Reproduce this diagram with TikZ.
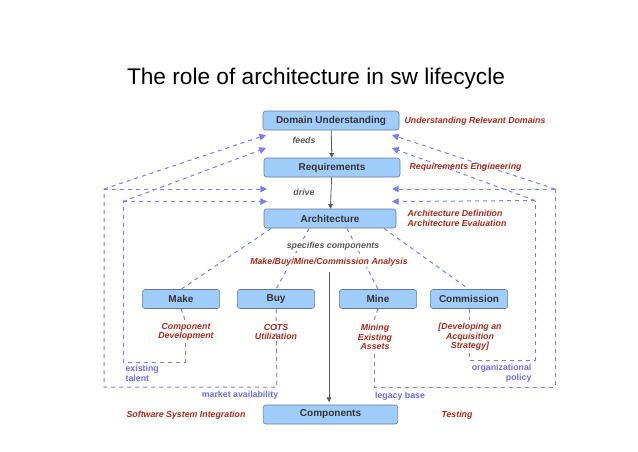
\documentclass[tikz,border=0pt]{standalone}
\usepackage{fontspec}
\setmainfont{Liberation Sans}
\usetikzlibrary{arrows.meta}
\definecolor{boxfill}{RGB}{160,204,250}
\definecolor{boxdraw}{RGB}{100,120,150}
\definecolor{redtxt}{RGB}{165,45,30}
\definecolor{dashc}{RGB}{125,125,240}
\definecolor{bluetxt}{RGB}{110,110,225}
\tikzset{
 box/.style={draw=boxdraw,fill=boxfill,rounded corners=2pt,minimum height=14.25pt,font=\fontsize{7.5}{8}\selectfont\bfseries,text=black!80},
 redl/.style={text=redtxt,font=\fontsize{6.6}{7.2}\selectfont\bfseries\itshape,align=center,inner sep=1pt},
 grayl/.style={text=black!65,font=\fontsize{6.6}{7.2}\selectfont\bfseries\itshape,fill=white,inner sep=1pt},
 bluel/.style={text=bluetxt,font=\fontsize{6.6}{7.2}\selectfont\bfseries,inner sep=1pt},
 dl/.style={draw=dashc,dashed,line width=0.75pt},
 da/.style={dl,-{Triangle[length=5pt,width=5pt]}},
 sa/.style={draw=black!65,line width=0.6pt,-{Triangle[length=3.5pt,width=3.5pt]}}
}
\begin{document}
\begin{tikzpicture}[x=0.75pt,y=-0.75pt]
\useasboundingbox[fill=white] (0,0) rectangle (638,451);
\node[font=\fontsize{17}{20}\selectfont] (title) at (316,79) {The role of architecture in sw lifecycle};
% boxes
\node[box,minimum width=102pt] (du) at (331,120.5) {Domain Understanding};
\node[box,minimum width=102pt] (req) at (332,167.5) {Requirements};
\node[box,minimum width=99pt] (arch) at (330,218.5) {Architecture};
\node[box,minimum width=58pt] (make) at (181,299) {Make};
\node[box,minimum width=58pt] (buy) at (276,299) {Buy};
\node[box,minimum width=58pt] (mine) at (378,299) {Mine};
\node[box,minimum width=58pt] (comm) at (469,299) {Commission};
\node[box,minimum width=101pt] (comp) at (330.5,414.5) {Components};
% coordinates
\coordinate (olb) at (104,189); \coordinate (olc) at (104,387); \coordinate (obc) at (277,387);
\coordinate (ilb) at (123,201.5); \coordinate (ilc) at (123,362); \coordinate (imc) at (185,362);
\coordinate (orb) at (555,189); \coordinate (orc) at (555,387); \coordinate (omc) at (374,387);
\coordinate (irb) at (535,200.5); \coordinate (irc) at (535,360); \coordinate (icc) at (469,360);
\coordinate (a1) at (266,135); \coordinate (a2) at (266,148); \coordinate (a3) at (267,189); \coordinate (a4) at (267,201.5);
\coordinate (b1) at (392,135); \coordinate (b2) at (392,148); \coordinate (b3) at (392,189); \coordinate (b4) at (392,201.5);
% feedback loops
\draw[dl] (buy.south) -- (obc) -- (olc) -- (olb);
\draw[da] (olb) -- (a3); \draw[da] (olb) -- (a1);
\draw[dl] (make.south) -- (185,320); \draw[dl] (185,343) -- (imc) -- (ilc) -- (ilb);
\draw[da] (ilb) -- (a4); \draw[da] (ilb) -- (a2);
\draw[dl] (mine.south) -- (374,320); \draw[dl] (374,354) -- (omc) -- (orc) -- (orb);
\draw[da] (orb) -- (b3); \draw[da] (orb) -- (b1);
\draw[dl] (comm.south) -- (469,320); \draw[dl] (469,353) -- (icc) -- (irc) -- (irb);
\draw[da] (irb) -- (b4); \draw[da] (irb) -- (b2);
% architecture to options
\draw[dl] (271,228.5) -- (make.north);
\draw[dl] (309,228.5) -- (buy.north);
\draw[dl] (347,228.5) -- (mine.north);
\draw[dl] (384,228.5) -- (comm.north);
% solid arrows
\draw[sa] (du) -- (req);
\draw[sa] (req) -- (arch);
\draw[sa] (329,272) -- (329,402);
% labels
\node[grayl] (feeds) at (304,140) {feeds};
\node[grayl] (drive) at (304,192) {drive};
\node[grayl] (spec) at (333,246) {specifies components};
\node[redl,fill=white] (mbmc) at (329,262) {Make/Buy/Mine/Commission Analysis};
\node[redl,anchor=west] (urd) at (403,121) {Understanding Relevant Domains};
\node[redl,anchor=west] (reng) at (408,167.5) {Requirements Engineering};
\node[redl,anchor=west,align=left] (adef) at (406,218.5) {Architecture Definition\\Architecture Evaluation};
\node[redl] (cdev) at (186,332) {Component\\Development};
\node[redl] (cots) at (276,332) {COTS\\Utilization};
\node[redl] (mea) at (375,337) {Mining\\Existing\\Assets};
\node[redl] (das) at (470,337) {[Developing an\\Acquisition\\Strategy]};
\node[bluel,anchor=west,align=left] (et) at (124,373.5) {existing\\talent};
\node[bluel,anchor=east,align=right] (op) at (533,373.5) {organizational\\policy};
\node[bluel] (ma) at (240,395) {market availability};
\node[bluel] (lb) at (400,396) {legacy base};
\node[redl] (ssi) at (186,415) {Software System Integration};
\node[redl] (test) at (457,415) {Testing};
\end{tikzpicture}
\end{document}
